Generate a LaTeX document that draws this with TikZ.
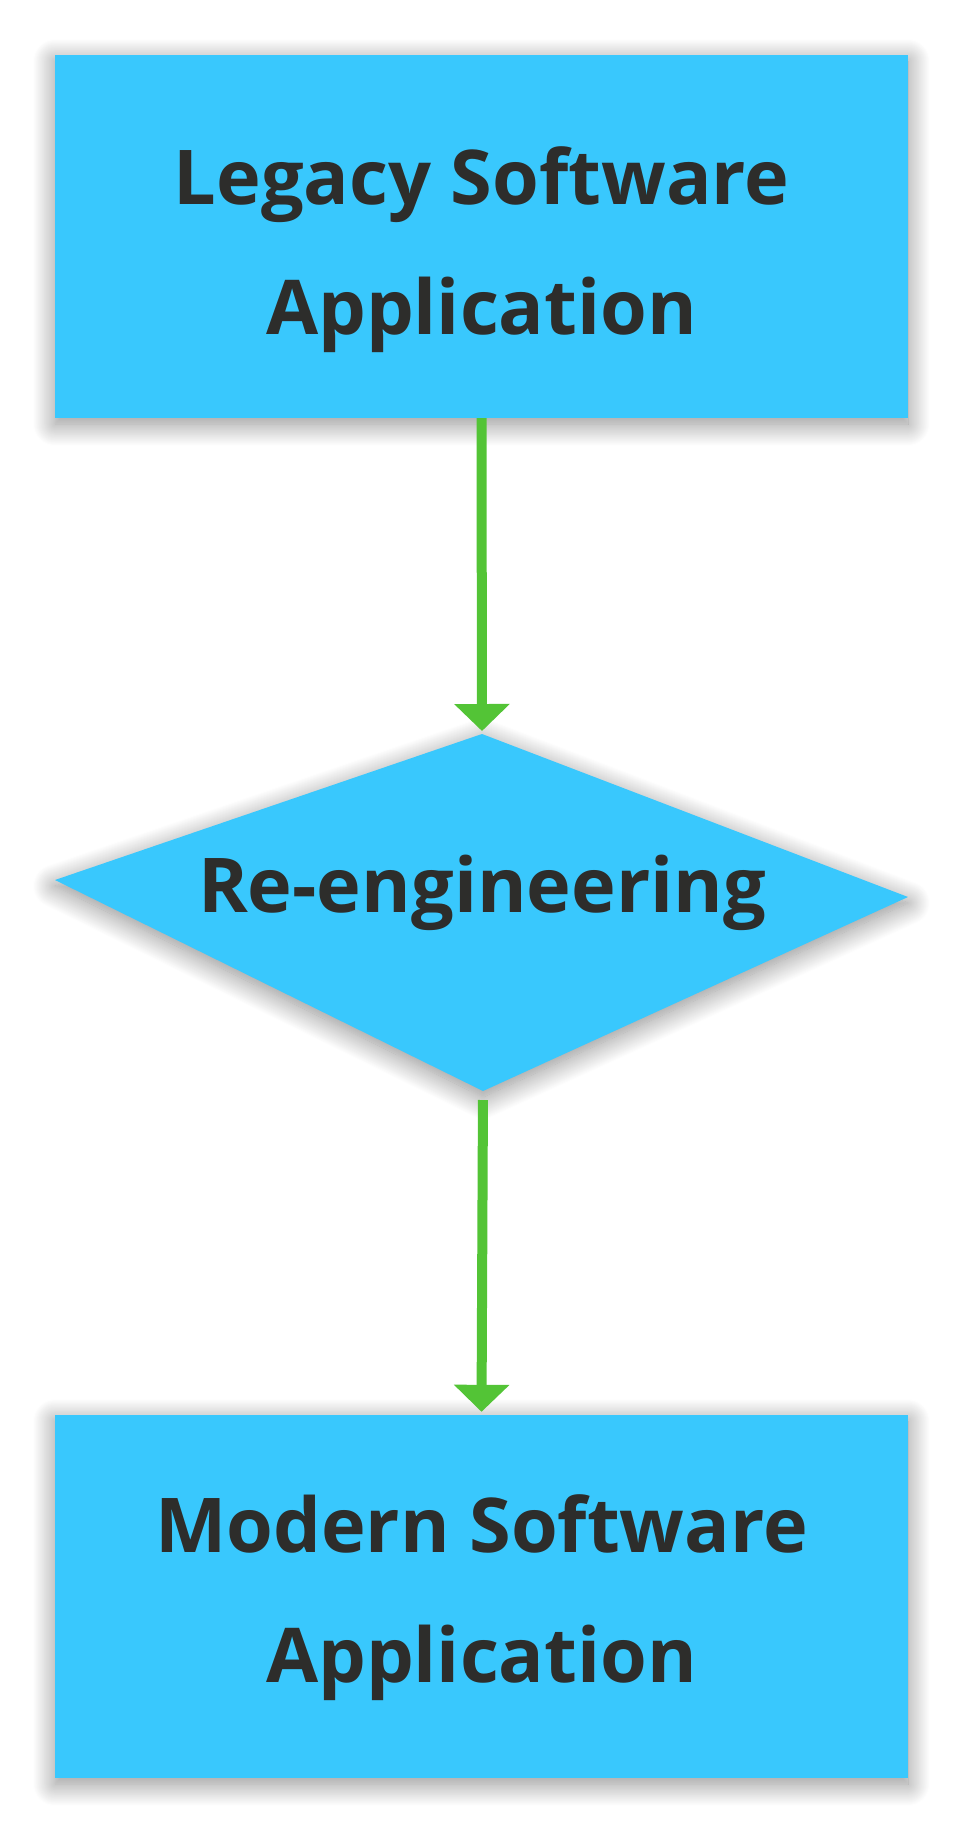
\documentclass[tikz,border=0pt]{standalone}
\usepackage{fontspec}
\setmainfont{Open Sans}
\usepackage{xcolor}
\usetikzlibrary{arrows.meta, shadows.blur}
\definecolor{boxblue}{HTML}{39C8FD}
\definecolor{flowgreen}{HTML}{53C436}
\definecolor{inkgray}{HTML}{2D2D2B}
\tikzset{
  softshadow/.style={
    blur shadow={shadow xshift=0pt, shadow yshift=-6pt,
                 shadow blur radius=22pt, shadow blur steps=24,
                 shadow opacity=45}
  },
  appbox/.style={rectangle, fill=boxblue, softshadow, inner sep=0pt,
                 minimum width=853pt, minimum height=363pt},
  apptext/.style={text=inkgray, align=center,
                  font=\bfseries\fontsize{75.6}{130}\selectfont}
}

\begin{document}
\begin{tikzpicture}[x=1pt, y=-1pt]
\useasboundingbox (0,0) rectangle (963,1834);
% boxes
\node[appbox] (legacy) at (481.5,236.5) {};
\node[appbox] (modern) at (481.5,1596.5) {};
% decision shape
    \coordinate (dtop) at (482,734);
    \coordinate (dright) at (908,897);
    \coordinate (dbot) at (483,1091);
    \coordinate (dleft) at (55,880);
\fill[boxblue, softshadow] (dtop) -- (dright) -- (dbot) -- (dleft) -- cycle;
% labels
\node[apptext] (legacytext) at (481.5,249.4) {Legacy Software\\Application};
\node[apptext] (reeng) at (482,893.2) {Re-engineering};
\node[apptext] (moderntext) at (481.5,1597.4) {Modern Software\\Application};
\begin{scope}[>={Triangle[length=27pt, width=54pt]},
              every edge/.style={draw=flowgreen, line width=10pt}]
    \path [->, shorten >=3pt] (legacy.south) edge (dtop);
    \path [->, shorten <=9pt, shorten >=3pt] (dbot) edge (modern.north);
\end{scope}
\end{tikzpicture}
\end{document}
